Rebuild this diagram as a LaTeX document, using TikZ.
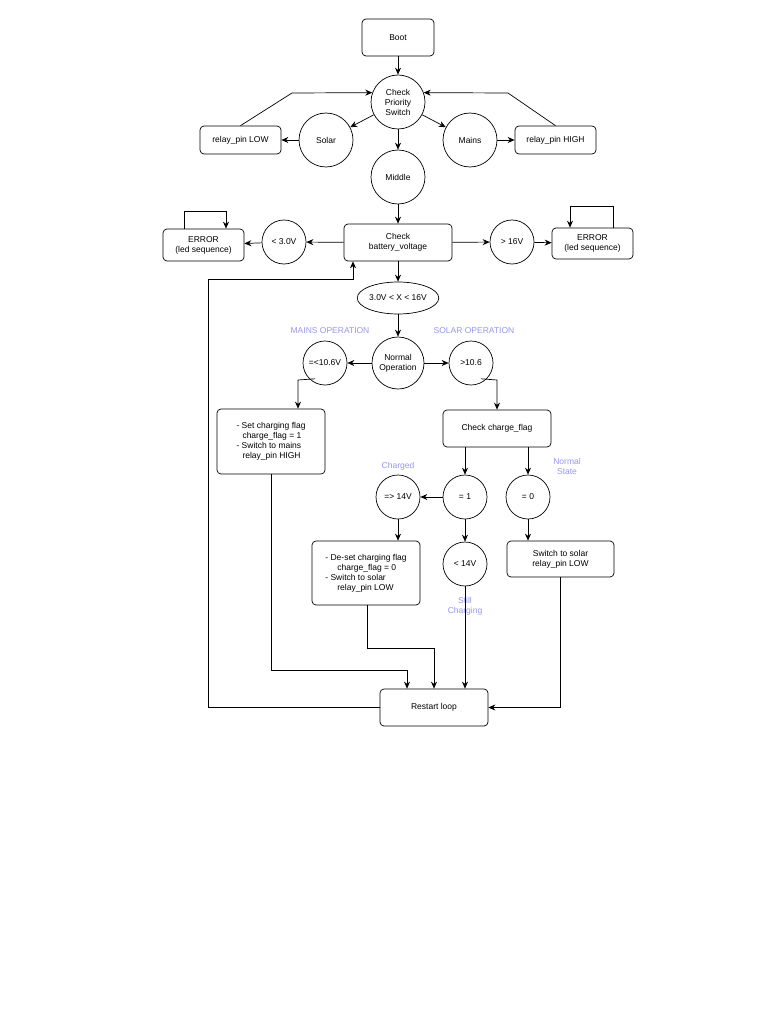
\documentclass[tikz,border=0pt]{standalone}
\usepackage{fontspec}
\setmainfont{Liberation Sans}
\usetikzlibrary{arrows.meta,shapes.geometric}
\definecolor{lbl}{RGB}{150,150,235}
\begin{document}
\begin{tikzpicture}[x=1pt,y=-1pt,
  every node/.style={font=\fontsize{8.5}{10}\selectfont},
  box/.style={draw,rounded corners=4pt,minimum width=#1,align=center,inner sep=1pt},
  box/.default=108pt,
  circ/.style={draw,circle,minimum size=#1,inner sep=0pt,align=center},
  circ/.default=44pt,
  lab/.style={text=lbl,align=center},
  ar/.style={-{Stealth[length=7pt,width=6pt]}},
  line width=0.7pt]
\useasboundingbox (0,0) rectangle (768,1024);
\node[box=72pt,minimum height=37pt] (boot) at (398,37.5) {Boot};
\node[circ=54pt] (cps) at (398,102) {Check\\Priority\\Switch};
\node[circ=54pt] (solar) at (326,140) {Solar};
\node[circ=54pt] (mains) at (470,140) {Mains};
\node[box=81pt,minimum height=28pt] (rlow) at (240.5,140) {relay\_pin LOW};
\node[box=81pt,minimum height=28pt] (rhigh) at (555.5,140) {relay\_pin HIGH};
\node[circ=54pt] (mid) at (398,177) {Middle};
\node[box=108pt,minimum height=37pt] (cbv) at (398,242.5) {Check\\battery\_voltage};
\node[circ] (lt3) at (284,242) {< 3.0V};
\node[circ] (gt16) at (512,242) {> 16V};
\node[box=81pt,minimum height=32pt] (errl) at (203.5,245) {ERROR\\(led sequence)};
\node[box=81pt,minimum height=31pt] (errr) at (592.5,243.5) {ERROR\\(led sequence)};
\node[draw,ellipse,minimum width=80pt,minimum height=32pt,inner sep=0pt] (mid3) at (398,298) {3.0V < X < 16V};
\node[circ=52pt] (norm) at (398,363) {Normal\\Operation};
\node[circ] (le) at (325,363) {=<10.6V};
\node[circ] (gt) at (471,363) {>10.6};
\node[lab] at (330,331) {MAINS OPERATION};
\node[lab] at (474,331) {SOLAR OPERATION};
\node[box=108pt,minimum height=65pt,align=left] (set) at (271,441.5) {- Set charging flag\\\hspace{6pt}charge\_flag = 1\\- Switch to mains\\\hspace{6pt}relay\_pin HIGH};
\node[box=108pt,minimum height=37pt] (ccf) at (497,428.5) {Check charge\_flag};
\node[circ] (eq1) at (465,497) {= 1};
\node[circ] (eq0) at (528,497) {= 0};
\node[circ] (ge14) at (398,497) {=> 14V};
\node[lab] at (398,466) {Charged};
\node[lab] at (567,466) {Normal\\State};
\node[box=108pt,minimum height=64pt,align=left] (deset) at (366,573) {- De-set charging flag\\\hspace{12pt}charge\_flag = 0\\- Switch to solar\\\hspace{12pt}relay\_pin LOW};
\node[circ] (lt14) at (465,564) {< 14V};
\node[lab] at (465,606) {Still\\Charging};
\node[box=107pt,minimum height=36pt] (sw) at (560.5,559) {Switch to solar\\relay\_pin LOW};
\node[box=108pt,minimum height=37pt] (rst) at (434,707.5) {Restart loop};
\coordinate (cl) at (226,211);
\coordinate (cr) at (570,206);
% top
\draw[ar] (boot) -- (cps);
\draw[ar] (cps) -- (solar);
\draw[ar] (cps) -- (mains);
\draw[ar] (cps) -- (mid);
\draw[ar] (solar) -- (rlow);
\draw[ar] (mains) -- (rhigh);
\draw[ar] (rlow.north) -- (292,93) -- (cps.160);
\draw[ar] (rhigh.north) -- (508,93) -- (cps.20);
\draw[ar] (mid) -- (cbv);
\draw[ar] (cbv) -- (lt3);
\draw[ar] (lt3) -- (errl);
\draw[ar] (cbv) -- (gt16);
\draw[ar] (gt16) -- (errr);
\draw[ar] (errl.north -| 184,0) -- (184,211) -- (cl) -- (errl.north -| cl);
\draw[ar] (errr.north -| 613,0) -- (613,206) -- (cr) -- (errr.north -| cr);
\draw[ar] (cbv) -- (mid3);
\draw[ar] (mid3) -- (norm);
\draw[ar] (norm) -- (le);
\draw[ar] (norm) -- (gt);
\draw[ar] (le.south west) ++(6,0) -- (298,380) -- (set.north -| 298,0);
\draw[ar] (gt.south east) ++(-6,0) -- (497,380) -- (ccf.north);
\draw[ar] (ccf.south -| eq1) -- (eq1);
\draw[ar] (ccf.south -| eq0) -- (eq0);
\draw[ar] (eq1) -- (ge14);
\draw[ar] (eq1) -- (lt14);
\draw[ar] (ge14) -- (deset.north -| ge14);
\draw[ar] (eq0.south) -- (eq0.south |- sw.north);
\draw[ar] (set.south) -- (271,670) -- (407,670) -- (rst.north -| 407,0);
\draw[ar] (deset.south -| 367,0) -- (367,648) -- (434,648) -- (rst.north);
\draw[ar] (lt14) -- (rst.north -| lt14);
\draw[ar] (sw.south) -- (560.5,707.5) -- (rst.east);
\draw[ar] (rst.west) -- (208,707.5) -- (208,279) -- (353,279) -- (cbv.south -| 353,0);
\end{tikzpicture}
\end{document}
